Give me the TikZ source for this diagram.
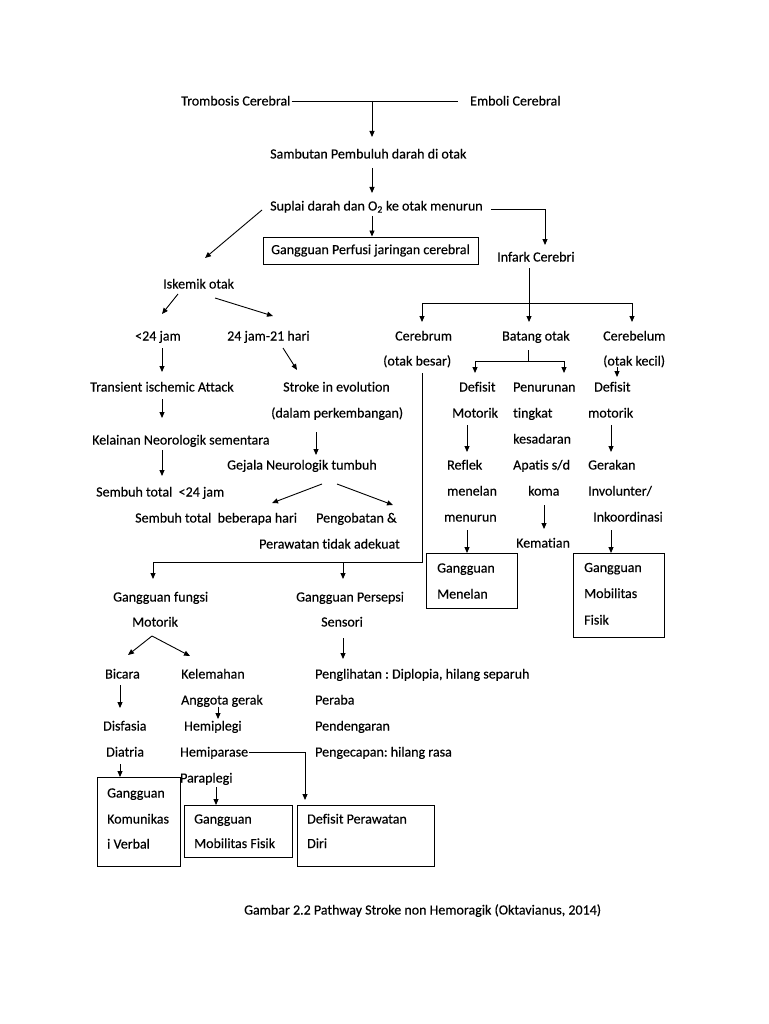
\documentclass[tikz,border=0pt]{standalone}
\usepackage{fontspec}
\setmainfont{Carlito}[FakeBold=0.3, Ligatures={NoCommon}]
\frenchspacing
\usetikzlibrary{arrows.meta}
\begin{document}
\begin{tikzpicture}[x=1pt,y=-1pt,
  t/.style={inner sep=0pt, anchor=base west, font=\fontsize{14}{16}\selectfont},
  arr/.style={-{Triangle[length=6pt,width=5pt]}, line width=0.9pt},
  ln/.style={line width=0.9pt},
  bx/.style={draw, line width=0.9pt, inner sep=0pt, anchor=north west}]
\useasboundingbox[fill=white] (0,0) rectangle (768,1024);

% ---------- top ----------
\node[t] (tromb) at (181,105.5) {Trombosis Cerebral};
\node[t] (emboli) at (470,105.5) {Emboli Cerebral};
\node[t] (samb) at (270,158.5) {Sambutan Pembuluh darah di otak};
\node[t] (supl) at (270,210.5) {Suplai darah dan O\textsubscript{2} ke otak menurun};
\node[draw, line width=0.9pt, minimum width=215pt, minimum height=27pt, inner sep=0pt,
  font=\fontsize{14}{16}\selectfont] (perf) at (370.5,250.5) {Gangguan Perfusi jaringan cerebral};
\node[t] (infark) at (497,261.5) {Infark Cerebri};

\coordinate (j1) at (372,101);
\draw[ln] (tromb.east |- j1) ++(1,0) -- ([xshift=-12pt]emboli.west |- j1);
\draw[arr] (j1) -- (372,137);
\draw[arr] (372,168) -- (372,193);
\draw[arr] (372,216) -- (perf.north -| j1);
\draw[arr] (262,210) -- (205,258);
\draw[arr] (491,209) -- (545,209) -- (545,245);

% ---------- left branch ----------
\node[t] (iskemik) at (163,288.5) {Iskemik otak};
\node[t] (lt24) at (135,340.5) {<24 jam};
\node[t] (j24) at (227,340.5) {24 jam-21 hari};
\node[t] (tia) at (90,391.5) {Transient ischemic Attack};
\node[t] (stroke) at (283,391.5) {Stroke in evolution};
\node[t] (dalam) at (271,417.5) {(dalam perkembangan)};
\node[t] (kelainan) at (92,444.5) {Kelainan Neorologik sementara};
\node[t] (gejala) at (227,469.5) {Gejala Neurologik tumbuh};
\node[t] (sembuh1) at (96,496.5) {Sembuh total\ \ <24 jam};
\node[t] (sembuh2) at (135,522.5) {Sembuh total\ \ beberapa hari};
\node[t] (pengob) at (316,522.5) {Pengobatan \&};
\node[t] (perawatan) at (259,548.5) {Perawatan tidak adekuat};

\draw[arr] (178,294) -- (162,314);
\draw[arr] (215,298) -- (273,316);
\draw[arr] (162,348) -- (162,372);
\draw[arr] (283,348) -- (297,370);
\draw[arr] (162,399) -- (162,418);
\draw[arr] (162,450) -- (162,476);
\draw[arr] (316,432) -- (316,455);
\draw[arr] (322,484) -- (272,503);
\draw[arr] (337,484) -- (393,505);

% ---------- infark branch ----------
\node[t] (cerebrum) at (395,340.5) {Cerebrum};
\node[t] (otakbesar) at (383,365.5) {(otak besar)};
\node[t] (batang) at (502,340.5) {Batang otak};
\node[t] (cerebelum) at (603,340.5) {Cerebelum};
\node[t] (otakkecil) at (603,365.5) {(otak kecil)};

\draw[ln] (529,268) -- (529,303);
\draw[ln] (422,303) -- (632,303);
\draw[arr] (422,303) -- (422,322);
\draw[arr] (529,303) -- (529,322);
\draw[arr] (632,303) -- (632,322);

\node[t] (defA) at (459,391.5) {Defisit};
\node[t] (motA) at (452,417.5) {Motorik};
\node[t] (penurunan) at (513,391.5) {Penurunan};
\node[t] (tingkat) at (513,417.5) {tingkat};
\node[t] (kesadaran) at (513,443.5) {kesadaran};
\node[t] (apatis) at (513,469.5) {Apatis s/d};
\node[t] (koma) at (528,495.5) {koma};
\node[t] (kematian) at (516,547.5) {Kematian};
\node[t] (defB) at (594,391.5) {Defisit};
\node[t] (motB) at (588,417.5) {motorik};
\node[t] (reflek) at (447,469.5) {Reflek};
\node[t] (menelan) at (447,495.5) {menelan};
\node[t] (menurun) at (444,521.5) {menurun};
\node[t] (gerakan) at (588,469.5) {Gerakan};
\node[t] (involunter) at (588,495.5) {Involunter/};
\node[t] (inkoord) at (593,521.5) {Inkoordinasi};

\draw[ln] (528,350) -- (528,361);
\draw[ln] (475,361) -- (564,361);
\draw[arr] (475,361) -- (475,373);
\draw[arr] (564,361) -- (564,373);
\draw[arr] (617,367) -- (617,377);

\draw[arr] (467,425) -- (467,452);
\draw[arr] (544,505) -- (544,529);
\draw[arr] (611,425) -- (611,452);

\node[bx, minimum width=91pt, minimum height=55pt] (gmenelan) at (426,553) {};
\node[t] (gmenelan1) at (437,572.5) {Gangguan};
\node[t] (gmenelan2) at (437,598.5) {Menelan};
\node[bx, minimum width=91pt, minimum height=84pt] (gmobil1) at (573,553) {};
\node[t] (gmobil1a) at (584,572) {Gangguan};
\node[t] (gmobil1b) at (584,598) {Mobilitas};
\node[t] (gmobil1c) at (584,624.5) {Fisik};
\draw[arr] (467,530) -- (gmenelan.north -| 467,0);
\draw[arr] (611,530) -- (gmobil1.north -| 611,0);

% cerebrum long connector
\draw[ln] (422,373) -- (422,562) -- (153,562);
\draw[arr] (153,562) -- (153,579);
\draw[arr] (343,562) -- (343,579);

% ---------- bottom ----------
\node[t] (gfm) at (113,601.5) {Gangguan fungsi};
\node[t] (motC) at (132,626.5) {Motorik};
\node[t] (gps) at (296,601.5) {Gangguan Persepsi};
\node[t] (sensori) at (321,626.5) {Sensori};

\coordinate (apex) at (152,636);
\draw[arr] (apex) -- (128,655);
\draw[arr] (apex) -- (190,656);
\draw[arr] (343,638) -- (343,659);

\node[t] (bicara) at (105,678.5) {Bicara};
\node[t] (kelemahan) at (181,678.5) {Kelemahan};
\node[t] (anggota) at (181,704.5) {Anggota gerak};
\node[t] (disfasia) at (103,730.5) {Disfasia};
\node[t] (hemiplegi) at (184,730.5) {Hemiplegi};
\node[t] (diatria) at (106,756.5) {Diatria};
\node[t] (hemiparase) at (180,756.5) {Hemiparase};
\node[t] (paraplegi) at (180,782.5) {Paraplegi};

\node[t] (penglihatan) at (315,678.5) {Penglihatan : Diplopia, hilang separuh};
\node[t] (peraba) at (315,704.5) {Peraba};
\node[t] (pendengaran) at (315,730.5) {Pendengaran};
\node[t] (pengecapan) at (315,756.5) {Pengecapan: hilang rasa};

\draw[arr] (120,685) -- (120,708);
\draw[arr] (218,707) -- (218,719);
\draw[arr] (120,764) -- (120,777);
\draw[arr] (216,787) -- (216,805);

\node[bx, minimum width=83pt, minimum height=89pt] (gkomun) at (97,777) {};
\node[t] (gkomun1) at (107,797.5) {Gangguan};
\node[t] (gkomun2) at (107,823.5) {Komunikas};
\node[t] (gkomun3) at (107,848.5) {i Verbal};
\node[bx, minimum width=108pt, minimum height=52pt] (gmobil2) at (184,805) {};
\node[t] (gmobil2a) at (194,823.5) {Gangguan};
\node[t] (gmobil2b) at (194,848) {Mobilitas Fisik};
\node[bx, minimum width=137pt, minimum height=61pt] (gdefisit) at (297,805) {};
\node[t] (gdefisit1) at (307,823.5) {Defisit Perawatan};
\node[t] (gdefisit2) at (307,848) {Diri};

\draw[arr] ([xshift=1pt]hemiparase.east |- 0,752) -- (305,752) -- (305,800);

\node[t] (caption) at (244,914.5) {Gambar 2.2 Pathway Stroke non Hemoragik (Oktavianus, 2014)};
\end{tikzpicture}
\end{document}
